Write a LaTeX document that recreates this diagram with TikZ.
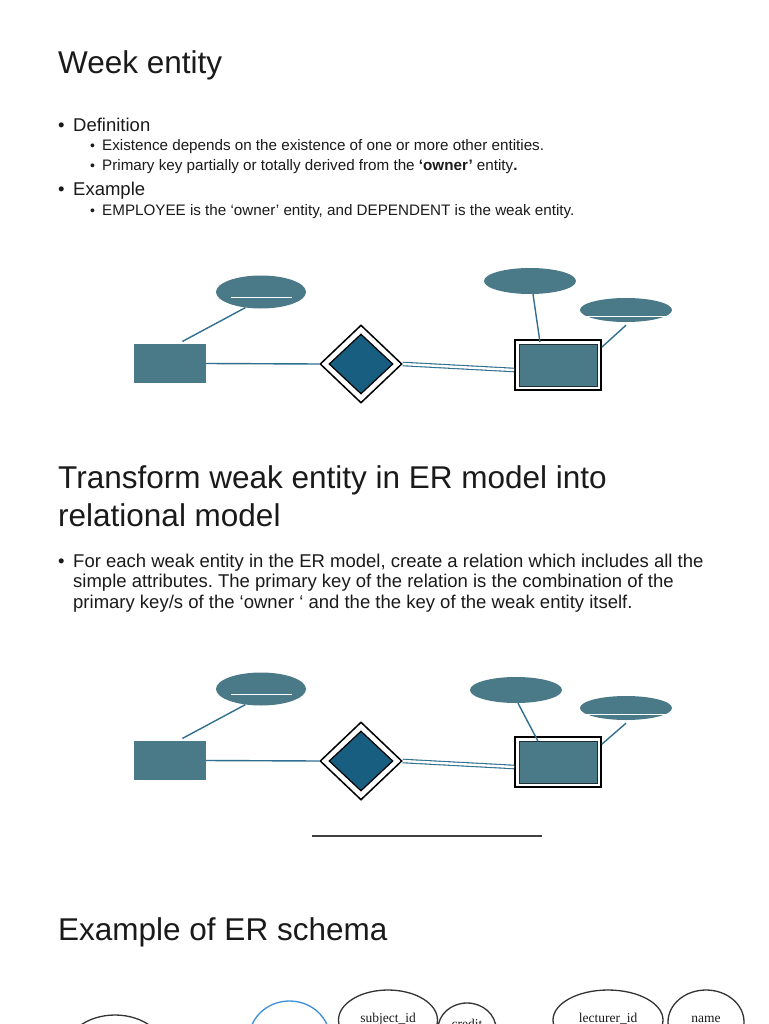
\documentclass[tikz,border=0pt]{standalone}
\usepackage{fontspec}
\setmainfont{Liberation Sans}
\newfontfamily\serifer{Liberation Serif}
\usetikzlibrary{shapes.geometric,calc}
\definecolor{ent}{HTML}{4A7987}
\definecolor{rel}{HTML}{185E80}
\definecolor{lnk}{HTML}{2F6F8F}
\definecolor{txt}{HTML}{1A1A1A}
\definecolor{blueov}{HTML}{3A8FD8}
\frenchspacing
\tikzset{
  entbox/.style={rectangle, fill=ent, minimum width=72pt, minimum height=39pt, inner sep=0pt},
  attr/.style={ellipse, fill=ent, inner sep=0pt},
  conn/.style={draw=lnk, line width=1.4pt},
  twin/.style={draw=lnk, line width=1.1pt, double=white, double distance=2.4pt},
  diaout/.style={diamond, draw=black, fill=white, line width=1.5pt, minimum width=82pt, minimum height=78pt, inner sep=0pt},
  diain/.style={diamond, draw=black, fill=rel, line width=1.2pt, minimum width=64pt, minimum height=60pt, inner sep=0pt},
  weakout/.style={rectangle, draw=black, fill=white, line width=1.6pt, minimum width=86pt, minimum height=50pt, inner sep=0pt},
  weakin/.style={rectangle, draw=black!60!ent, fill=ent, line width=1pt, minimum width=78pt, minimum height=42pt, inner sep=0pt},
  uline/.style={draw=white, line width=1pt},
  title/.style={anchor=base west, inner sep=0pt, text=txt, font=\fontsize{31.5}{37}\selectfont},
  lone/.style={anchor=base west, inner sep=0pt, text=txt, font=\fontsize{18.5}{22}\selectfont},
  ltwo/.style={anchor=base west, inner sep=0pt, text=txt, font=\fontsize{15.2}{18}\selectfont},
  bone/.style={anchor=base west, inner sep=0pt, text=txt, font=\fontsize{18.5}{22}\selectfont},
  btwo/.style={anchor=base west, inner sep=0pt, text=txt, font=\fontsize{14}{16}\selectfont},
  oval/.style={ellipse, draw=black!80, line width=1.3pt, inner sep=0pt, font=\serifer\fontsize{13.5}{16}\selectfont, text=txt},
}
\begin{document}
\begin{tikzpicture}[x=1pt,y=-1pt]
\useasboundingbox (0,0) rectangle (768,1024);
\clip (0,0) rectangle (768,1024);
\fill[white] (0,0) rectangle (768,1024);

% ---------- Section 1 ----------
\node[title] (t1) at (58,74) {Week entity};
\node[bone] (b1a) at (58,132) {•};
\node[lone] (l1a) at (73,132) {Definition};
\node[btwo] (b2a) at (90,151) {•};
\node[ltwo] (l2a) at (102,151) {Existence depends on the existence of one or more other entities.};
\node[btwo] (b2b) at (90,171) {•};
\node[ltwo] (l2b) at (102,171) {Primary key partially or totally derived from the \textbf{‘owner’} entity\textbf{.}};
\node[bone] (b1b) at (58,196) {•};
\node[lone] (l1b) at (73,196) {Example};
\node[btwo] (b2c) at (90,216) {•};
\node[ltwo] (l2c) at (102,216) {EMPLOYEE is the ‘owner’ entity, and DEPENDENT is the weak entity.};

% ---------- Diagram 1 ----------
\node[entbox] (own1) at (170,363.5) {};
\node[attr, minimum width=90pt, minimum height=33pt] (a1) at (261,292) {};
\draw[uline] ($(a1.center)+(-30,5)$) -- ($(a1.center)+(31,5)$);
\node[diaout] (d1) at (361,364) {};
\node[diain] (d1i) at (361,364) {};
\node[weakout] (w1) at (558,365) {};
\node[weakin] (w1i) at (558,365) {};
\node[attr, minimum width=92pt, minimum height=26pt] (bb1) at (530,281) {};
\node[attr, minimum width=92pt, minimum height=24pt] (c1) at (626,310) {};
\draw[uline] ($(c1.center)+(-41,6)$) -- ($(c1.center)+(41,6)$);
\draw[conn, shorten >=5pt] (a1.225) -- ([xshift=8pt]own1.north);
\draw[conn] (own1.east) -- (d1.west);
\draw[twin] (d1.east) -- ([yshift=-5pt]w1.west);
\draw[conn] ([xshift=3pt]bb1.south) -- ([xshift=-18pt,yshift=-3pt]w1.north);
\draw[conn] ([yshift=-3pt]c1.south) -- ([yshift=-8pt]w1.north east);

% ---------- Section 2 ----------
\node[title] (t2) at (58,488) {Transform weak entity in ER model into};
\node[title] (t3) at (58,526) {relational model};
\node[bone] (b1c) at (58,567) {•};
\node[lone] (p1) at (73,567) {For each weak entity in the ER model, create a relation which includes all the};
\node[lone] (p2) at (73,587.5) {simple attributes. The primary key of the relation is the combination of the};
\node[lone] (p3) at (73,608) {primary key/s of the ‘owner ‘ and the the key of the weak entity itself.};

% ---------- Diagram 2 ----------
\node[entbox] (own2) at (170,760.5) {};
\node[attr, minimum width=90pt, minimum height=33pt] (a2) at (261,689) {};
\draw[uline] ($(a2.center)+(-30,5)$) -- ($(a2.center)+(31,5)$);
\node[diaout] (d2) at (361,761) {};
\node[diain] (d2i) at (361,761) {};
\node[weakout] (w2) at (558,762) {};
\node[weakin] (w2i) at (558,762) {};
\node[attr, minimum width=92pt, minimum height=26pt] (bb2) at (516,690) {};
\node[attr, minimum width=92pt, minimum height=24pt] (c2) at (626,708) {};
\draw[uline] ($(c2.center)+(-41,6)$) -- ($(c2.center)+(41,6)$);
\draw[conn, shorten >=5pt] (a2.225) -- ([xshift=8pt]own2.north);
\draw[conn] (own2.east) -- (d2.west);
\draw[twin] (d2.east) -- ([yshift=-5pt]w2.west);
\draw[conn] ([xshift=2pt]bb2.south) -- ([xshift=-20pt,yshift=-5pt]w2.north);
\draw[conn] ([yshift=-3pt]c2.south) -- ([yshift=-8pt]w2.north east);
\draw[line width=1.3pt, black!75] (312,836) -- (542,836);

% ---------- Section 3 ----------
\node[title] (t4) at (58,940) {Example of ER schema};
\node[oval, minimum width=100pt, minimum height=74pt] (e1) at (115,1052) {};
\node[oval, draw=blueov, minimum width=81pt, minimum height=76pt] (e2) at (289.5,1039) {};
\node[oval, minimum width=99pt, minimum height=60pt] (e3) at (388,1020) {\raisebox{5pt}{\underline{subject\_id}}};
\node[oval, minimum width=58pt, minimum height=52pt] (e4) at (467,1029) {\raisebox{10.5pt}{credit}};
\node[oval, minimum width=110pt, minimum height=60pt] (e5) at (608,1020) {\raisebox{5pt}{\underline{lecturer\_id}}};
\node[oval, minimum width=76pt, minimum height=64pt] (e6) at (706,1022) {\raisebox{5pt}{name}};
\end{tikzpicture}
\end{document}
